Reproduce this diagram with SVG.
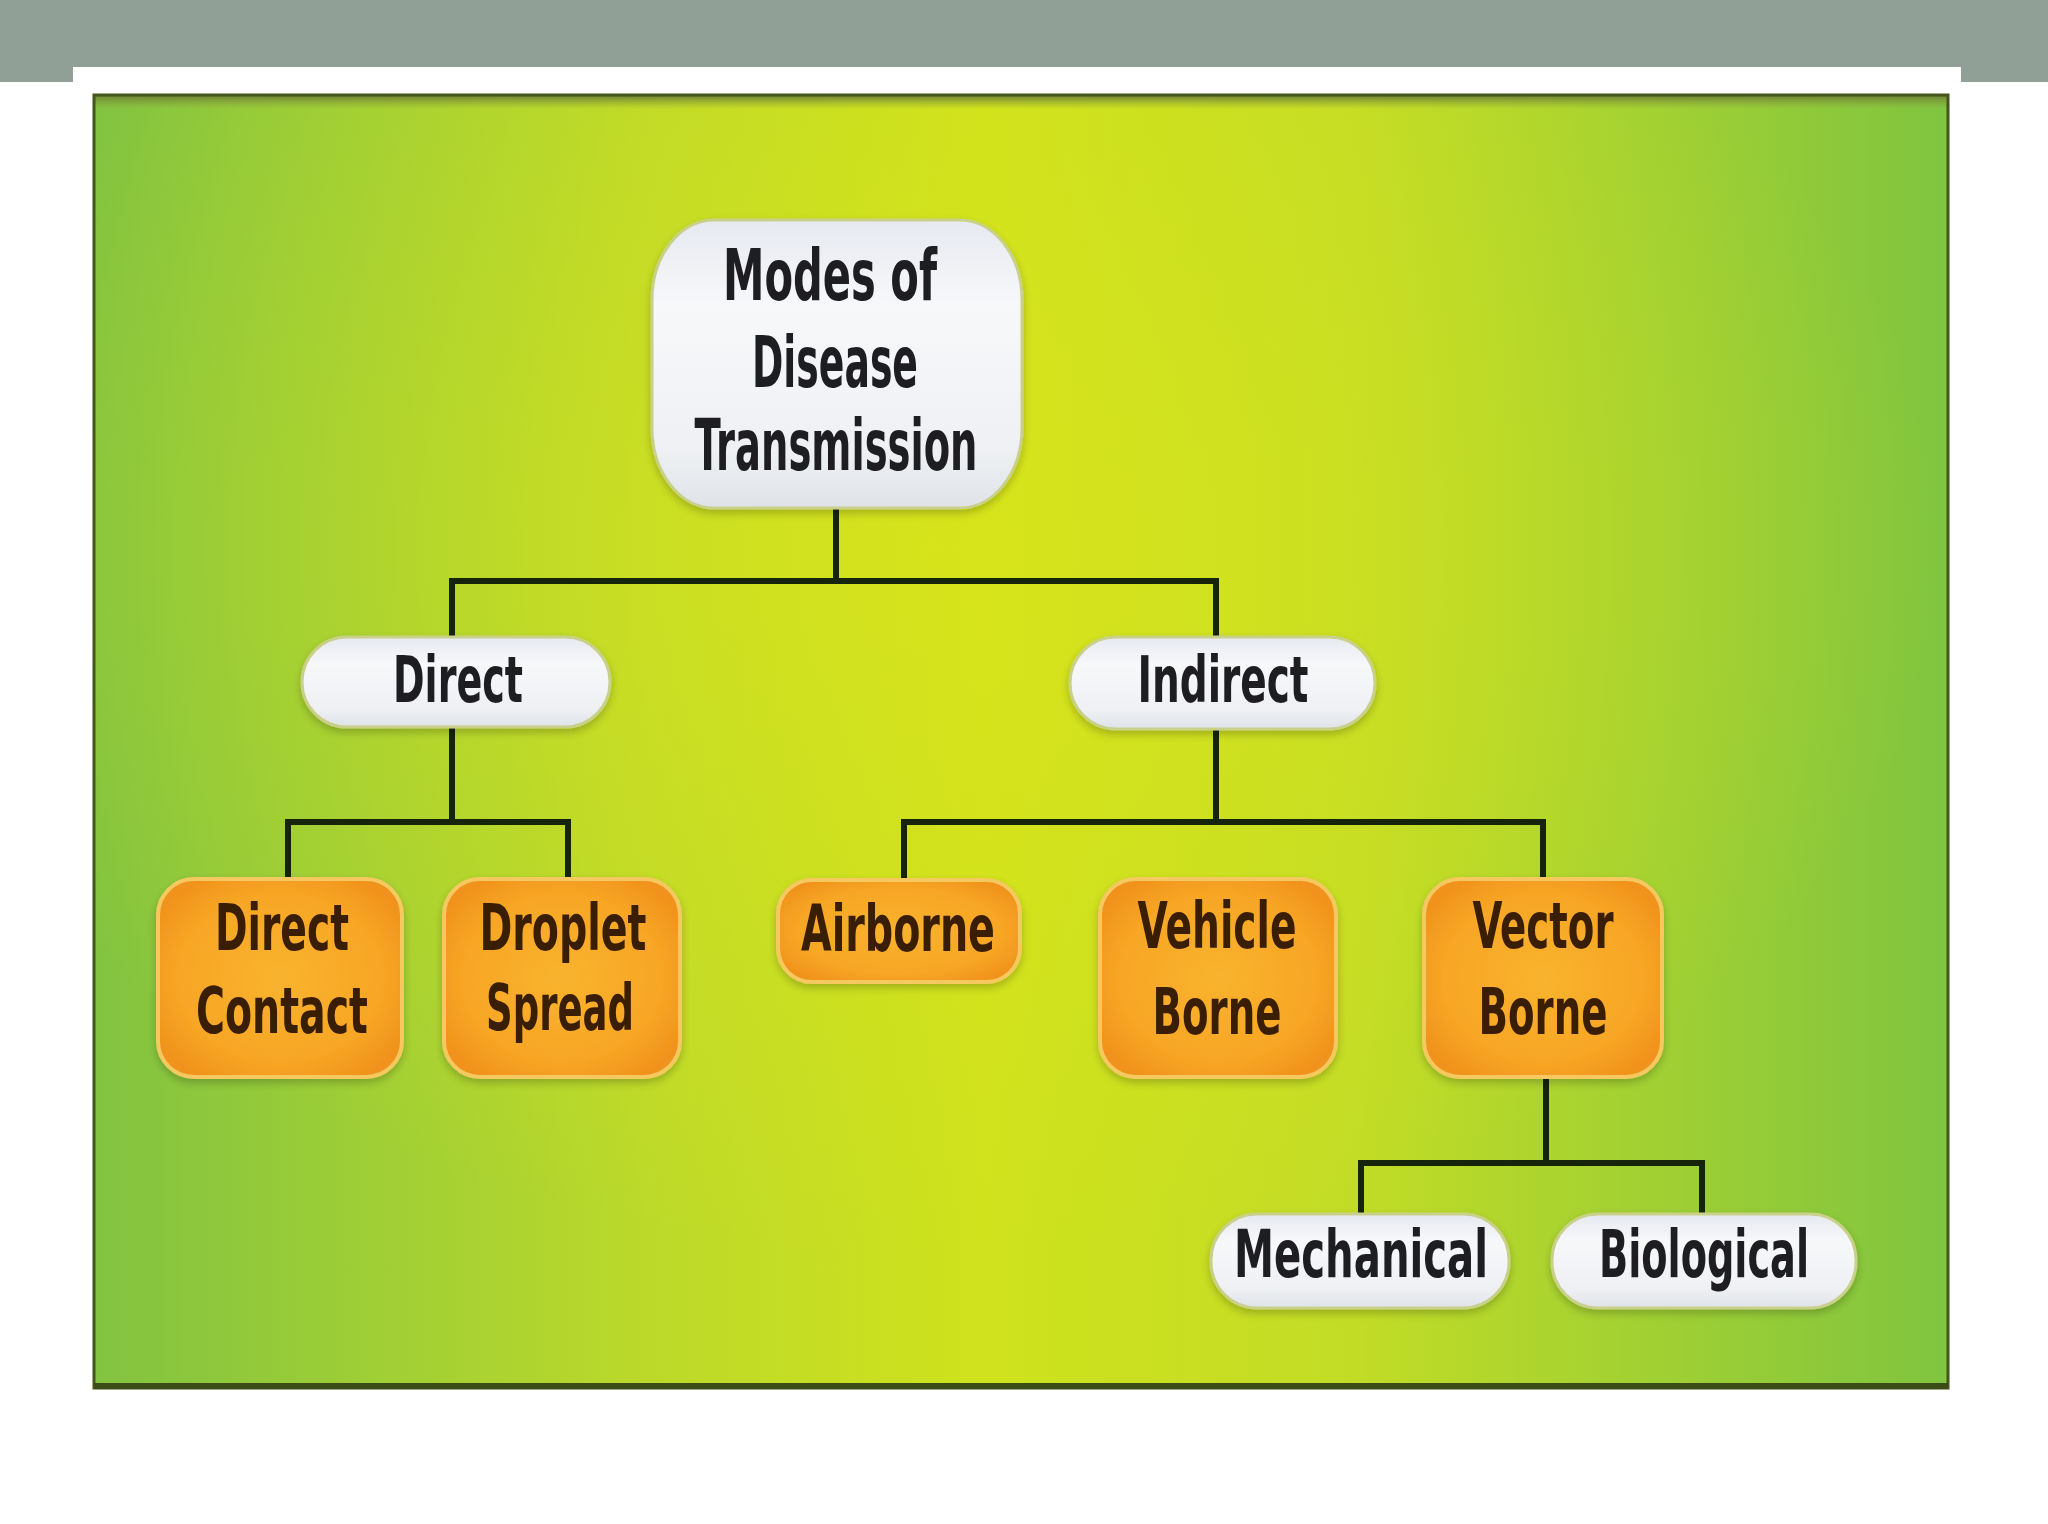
<svg xmlns="http://www.w3.org/2000/svg" width="2048" height="1524" viewBox="0 0 2048 1524">
<defs>
<linearGradient id="bg" x1="0" y1="0" x2="1" y2="0">
<stop offset="0" stop-color="#82c341"/>
<stop offset="0.3" stop-color="#bcd92a"/>
<stop offset="0.48" stop-color="#cfe21c"/>
<stop offset="0.68" stop-color="#c2dc26"/>
<stop offset="1" stop-color="#80c440"/>
</linearGradient>
<radialGradient id="glow" cx="0.45" cy="0.35" r="0.55">
<stop offset="0" stop-color="#dce51a" stop-opacity="0.6"/>
<stop offset="1" stop-color="#dce51a" stop-opacity="0"/>
</radialGradient>
<linearGradient id="topband" x1="0" y1="0" x2="0" y2="1">
<stop offset="0" stop-color="#6a7c34"/>
<stop offset="1" stop-color="#8aa03a" stop-opacity="0"/>
</linearGradient>
<linearGradient id="pill" x1="0" y1="0" x2="0" y2="1">
<stop offset="0" stop-color="#e6e9f0"/>
<stop offset="0.3" stop-color="#f7f8fa"/>
<stop offset="0.8" stop-color="#eef0f3"/>
<stop offset="1" stop-color="#dfe3e8"/>
</linearGradient>
<radialGradient id="orange" cx="0.5" cy="0.5" r="0.6">
<stop offset="0" stop-color="#f9b32e"/>
<stop offset="0.7" stop-color="#f7a625"/>
<stop offset="1" stop-color="#f0921c"/>
</radialGradient>
<filter id="sh" x="-10%" y="-10%" width="120%" height="130%">
<feGaussianBlur in="SourceAlpha" stdDeviation="4"/>
<feOffset dy="4"/>
<feComponentTransfer><feFuncA type="linear" slope="0.22"/></feComponentTransfer>
<feMerge><feMergeNode/><feMergeNode in="SourceGraphic"/></feMerge>
</filter>
</defs>
<style>
.t{font-family:"Liberation Sans Narrow","DejaVu Sans Condensed","Liberation Sans",sans-serif;font-weight:bold;text-anchor:middle;}
.w{fill:#1e1e22;}
.o{fill:#3a1e04;}
.pill{fill:url(#pill);stroke:#c9d08a;stroke-width:3;filter:url(#sh);}
.orn{fill:url(#orange);stroke:#f5c860;stroke-width:4;filter:url(#sh);}
.c{fill:none;stroke:#17240c;stroke-width:6;stroke-linecap:square;}
</style>
<rect x="0" y="0" width="2048" height="1524" fill="#ffffff"/>
<rect x="0" y="0" width="2048" height="82" fill="#91a096"/>
<rect x="73" y="67" width="1888" height="1360" fill="#ffffff"/>
<rect x="94" y="95" width="1854" height="1293" fill="url(#bg)"/>
<rect x="94" y="95" width="1854" height="1293" fill="url(#glow)"/>
<rect x="94" y="95" width="1854" height="14" fill="url(#topband)"/>
<rect x="94" y="95" width="1854" height="1293" fill="none" stroke="#44561c" stroke-width="3"/>
<rect x="94" y="1383" width="1854" height="6" fill="#3c4c16"/>

<g id="connectors">
<path class="c" d="M836 507 V581 M452 581 H1216 M452 581 V637 M1216 581 V637"/>
<path class="c" d="M452 727 V822 M288 822 H568 M288 822 V878 M568 822 V878"/>
<path class="c" d="M1216 730 V822 M904 822 H1543 M904 822 V878 M1543 822 V878"/>
<path class="c" d="M1546 1077 V1163 M1361 1163 H1702 M1361 1163 V1213 M1702 1163 V1213"/>
</g>

<g id="root">
<rect class="pill" x="652" y="220" width="370" height="288" rx="62" ry="80" stroke="#a9b04a" stroke-width="4"/>
<text class="t w" x="830" y="300" font-size="72" textLength="214" lengthAdjust="spacingAndGlyphs">Modes of</text>
<text class="t w" x="835" y="387" font-size="72" textLength="166" lengthAdjust="spacingAndGlyphs">Disease</text>
<text class="t w" x="836" y="470" font-size="72" textLength="283" lengthAdjust="spacingAndGlyphs">Transmission</text>
</g>

<g id="direct">
<rect class="pill" x="302" y="637" width="308" height="90" rx="45"/>
<text class="t w" x="458" y="702" font-size="64" textLength="130" lengthAdjust="spacingAndGlyphs">Direct</text>
</g>

<g id="indirect">
<rect class="pill" x="1070" y="637" width="305" height="92" rx="46"/>
<text class="t w" x="1223" y="702" font-size="64" textLength="171" lengthAdjust="spacingAndGlyphs">Indirect</text>
</g>

<g id="direct-contact">
<rect class="orn" x="158" y="879" width="244" height="198" rx="36"/>
<text class="t o" x="282" y="950" font-size="64" textLength="134" lengthAdjust="spacingAndGlyphs">Direct</text>
<text class="t o" x="282" y="1033" font-size="64" textLength="172" lengthAdjust="spacingAndGlyphs">Contact</text>
</g>

<g id="droplet-spread">
<rect class="orn" x="444" y="879" width="236" height="198" rx="36"/>
<text class="t o" x="563" y="950" font-size="64" textLength="167" lengthAdjust="spacingAndGlyphs">Droplet</text>
<text class="t o" x="560" y="1030" font-size="64" textLength="148" lengthAdjust="spacingAndGlyphs">Spread</text>
</g>

<g id="airborne">
<rect class="orn" x="778" y="880" width="242" height="102" rx="34"/>
<text class="t o" x="898" y="951" font-size="64" textLength="194" lengthAdjust="spacingAndGlyphs">Airborne</text>
</g>

<g id="vehicle-borne">
<rect class="orn" x="1100" y="879" width="236" height="198" rx="36"/>
<text class="t o" x="1217" y="948" font-size="64" textLength="159" lengthAdjust="spacingAndGlyphs">Vehicle</text>
<text class="t o" x="1217" y="1034" font-size="64" textLength="129" lengthAdjust="spacingAndGlyphs">Borne</text>
</g>

<g id="vector-borne">
<rect class="orn" x="1424" y="879" width="238" height="198" rx="36"/>
<text class="t o" x="1543" y="948" font-size="64" textLength="141" lengthAdjust="spacingAndGlyphs">Vector</text>
<text class="t o" x="1543" y="1034" font-size="64" textLength="129" lengthAdjust="spacingAndGlyphs">Borne</text>
</g>

<g id="mechanical">
<rect class="pill" x="1211" y="1214" width="298" height="94" rx="46"/>
<text class="t w" x="1361" y="1277" font-size="66" textLength="254" lengthAdjust="spacingAndGlyphs">Mechanical</text>
</g>

<g id="biological">
<rect class="pill" x="1552" y="1214" width="304" height="94" rx="46"/>
<text class="t w" x="1704" y="1277" font-size="66" textLength="210" lengthAdjust="spacingAndGlyphs">Biological</text>
</g>
</svg>
